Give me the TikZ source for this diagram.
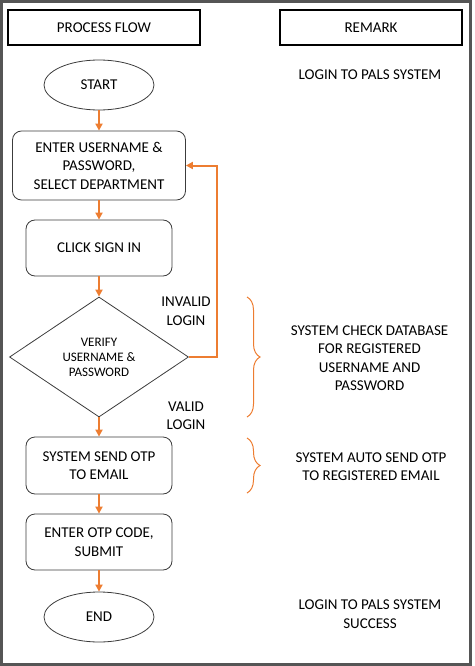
\documentclass[tikz,border=0pt]{standalone}
\usepackage{fontspec}
\setmainfont{Carlito}
\usetikzlibrary{shapes.geometric, arrows.meta, decorations.pathreplacing}
\definecolor{flowarrow}{RGB}{237,125,49}
\definecolor{framegrey}{RGB}{85,85,85}
\definecolor{boxline}{RGB}{60,60,60}

\begin{document}
\begin{tikzpicture}[x=1pt, y=-1pt,
  font=\fontsize{15}{18.5}\selectfont,
  headbox/.style={draw, line width=1.5pt, minimum width=192, minimum height=35},
  stepbox/.style={draw=boxline, line width=0.8pt, rounded corners=9, align=center, inner sep=0pt},
  endbox/.style={draw=boxline, line width=0.8pt, ellipse, minimum width=110, minimum height=50, inner sep=0pt},
  flow/.style={draw=flowarrow, line width=2pt, -{Triangle[length=7pt, width=7pt]}},
  remark/.style={align=center},
  bracefig/.style={draw=flowarrow, line width=1pt, decorate, decoration={brace, amplitude=13pt}}]
  \useasboundingbox (0,0) rectangle (474,666);
  % outer frame
  \draw[framegrey, line width=3pt] (1.5,1.5) rectangle (470.5,664.5);

  % headings
  \node[headbox] (PF) at (104,27.5) {PROCESS FLOW};
  \node[headbox, minimum width=182] (RM) at (371,27.5) {REMARK};

  % process flow
  \node[endbox] (S) at (99,85) {START};
  \node[stepbox, minimum width=173, minimum height=69] (U) at (99,165.5) {ENTER USERNAME \&\\PASSWORD,\\SELECT DEPARTMENT};
  \node[stepbox, minimum width=146, minimum height=56] (C) at (99,248) {CLICK SIGN IN};
  \node[draw=boxline, line width=0.8pt, diamond, aspect=1.49, minimum width=179, minimum height=120, inner sep=0pt,
    align=center, font=\fontsize{13}{15}\selectfont] (V) at (99,357) {VERIFY\\USERNAME \&\\PASSWORD};
  \node[stepbox, minimum width=146, minimum height=57] (O) at (99,465.5) {SYSTEM SEND OTP\\TO EMAIL};
  \node[stepbox, minimum width=146, minimum height=56] (E) at (99,542) {ENTER OTP CODE,\\SUBMIT};
  \node[endbox] (N) at (99,617) {END};

  \draw[flow] (S) -- (S.south |- U.north);
  \draw[flow] (U) -- (U.south |- C.north);
  \draw[flow] (C) -- (C.south |- V.north);
  \draw[flow] (V) -- (V.south |- O.north);
  \draw[flow] (O) -- (O.south |- E.north);
  \draw[flow] (E) -- (E.south |- N.north);
  \coordinate (R) at (217,357);
  \draw[flow] (V.east) -- (R) |- (U.east);

  \node[align=center] (IL) at (186,311) {INVALID\\LOGIN};
  \node[align=center] (VL) at (186,415.5) {VALID\\LOGIN};

  % remarks
  \node[remark] (R1) at (370,75) {LOGIN TO PALS SYSTEM};
  \coordinate (B1a) at (247,297);
  \coordinate (B1b) at (247,417);
  \draw[bracefig] (B1a) -- (B1b);
  \node[remark] (R2) at (369.5,358) {SYSTEM CHECK DATABASE\\FOR REGISTERED\\USERNAME AND\\PASSWORD};
  \coordinate (B2a) at (247,438);
  \coordinate (B2b) at (247,493);
  \draw[bracefig] (B2a) -- (B2b);
  \node[remark] (R3) at (371,466.5) {SYSTEM AUTO SEND OTP\\TO REGISTERED EMAIL};
  \node[remark] (R4) at (370,614) {LOGIN TO PALS SYSTEM\\SUCCESS};
\end{tikzpicture}
\end{document}
